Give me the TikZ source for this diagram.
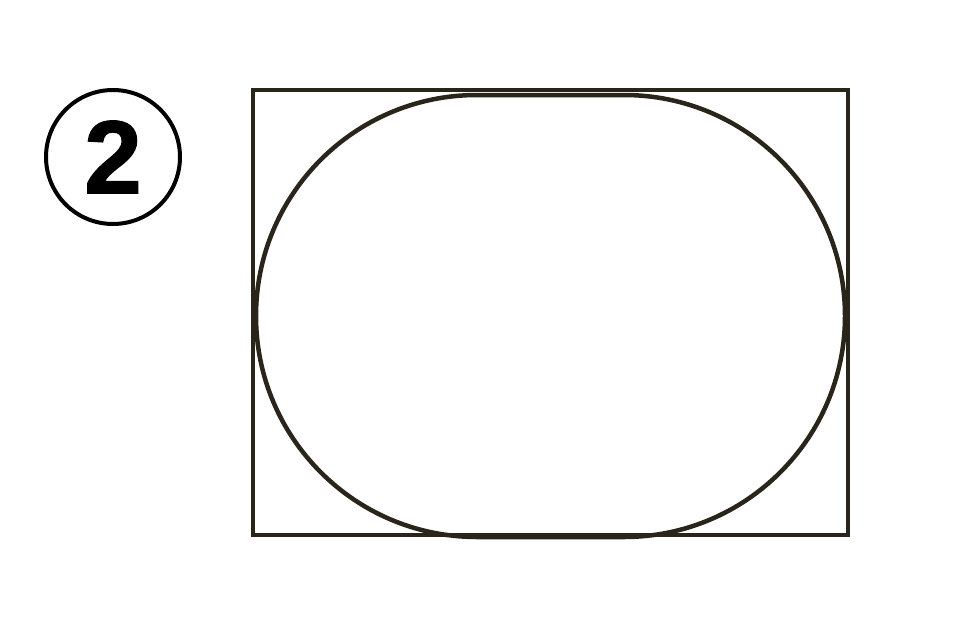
\documentclass[tikz,border=0pt]{standalone}
\usepackage{fontspec}
\setmainfont{Liberation Sans}
\newfontfamily\heavyfont{Liberation Sans Bold}[FakeBold=1.2]
\definecolor{ink}{HTML}{2A251A}
\begin{document}
\begin{tikzpicture}[x=1pt,y=-1pt,
  frame/.style={draw=ink,line width=3.6pt},
  stadium/.style={draw=ink,line width=4.5pt},
  badge/.style={circle,draw=black,line width=4pt,minimum size=134pt,inner sep=0pt,font=\heavyfont\fontsize{104}{104}\selectfont}]
\useasboundingbox[fill=white] (0,0) rectangle (960,640);
\node[badge] (num) at (113,157) {2};
\draw[frame] (253,90) rectangle (848,535);
\draw[stadium,rounded corners=221pt] (256,95) rectangle (845,537);
\end{tikzpicture}
\end{document}
